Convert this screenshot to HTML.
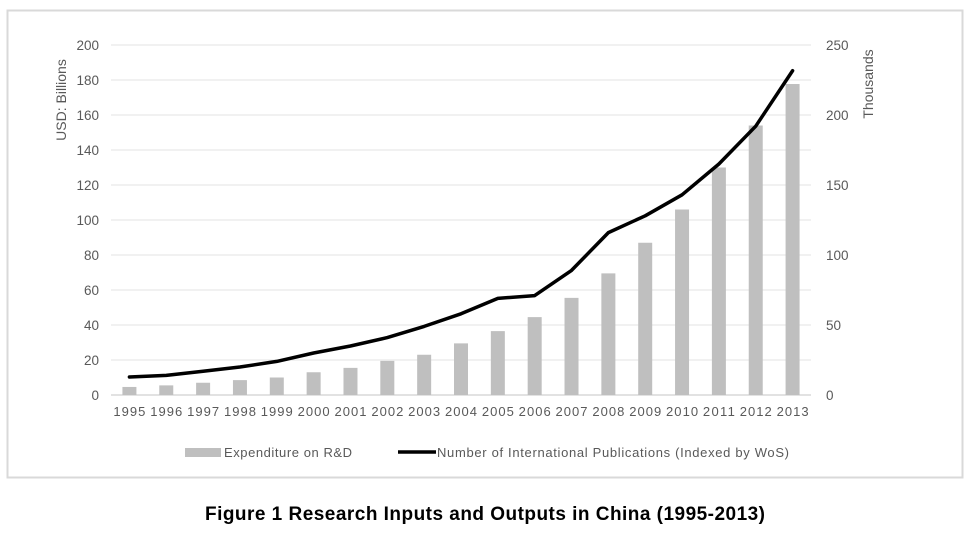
<!DOCTYPE html>
<html><head><meta charset="utf-8"><style>
body{margin:0;background:#fff;width:970px;height:529px;overflow:hidden;font-family:"Liberation Sans",sans-serif}
svg text{font-family:"Liberation Sans",sans-serif}
</style></head><body>
<svg width="970" height="529">
<rect x="7.5" y="10.5" width="955" height="467" fill="#fff" stroke="#d9d9d9" stroke-width="2"/>
<g id="grid"></g><g id="bars"></g><g id="line"></g><g id="axes"></g>
<text x="0" y="0" transform="translate(66,100) rotate(-90)" text-anchor="middle" font-size="14" fill="#595959">USD: Billions</text>
<text x="0" y="0" transform="translate(873,84) rotate(-90)" text-anchor="middle" font-size="14" fill="#595959">Thousands</text>
<rect x="185" y="448" width="36" height="9" fill="#bfbfbf"/>
<text x="224" y="457" font-size="13" fill="#595959" textLength="128">Expenditure on R&amp;D</text>
<line x1="398" y1="452" x2="436" y2="452" stroke="#000" stroke-width="3.5"/>
<text x="437" y="457" font-size="13" fill="#595959" textLength="352">Number of International Publications (Indexed by WoS)</text>
<text x="485" y="520" text-anchor="middle" font-size="19" font-weight="bold" fill="#000" textLength="560">Figure 1 Research Inputs and Outputs in China (1995-2013)</text>
</svg>
<script>
const years=["1995","1996","1997","1998","1999","2000","2001","2002","2003","2004","2005","2006","2007","2008","2009","2010","2011","2012","2013"];
const expenditure=[4.6,5.5,7,8.5,10,13,15.5,19.5,23,29.5,36.5,44.5,55.5,69.5,87,106,130,154,177.7];
const publications=[12.9,14,17,20,24,30,35,41,49,58,69,71,89,116,128,143,165,192,231.6];
const leftTicks=[0,20,40,60,80,100,120,140,160,180,200];
const rightTicks=[0,50,100,150,200,250];
const NS="http://www.w3.org/2000/svg";
const x0=111,x1=811,yb=395,yt=45;
const band=(x1-x0)/years.length;
const xc=i=>x0+band*(i+0.5);
const yL=v=>yb-(v/200)*(yb-yt);
const yR=v=>yb-(v/250)*(yb-yt);
function mk(tag,attrs,parent){const e=document.createElementNS(NS,tag);for(const k in attrs)e.setAttribute(k,attrs[k]);document.getElementById(parent).appendChild(e);return e;}
leftTicks.forEach(t=>{
 const l=mk('line',{x1:x0,x2:x1,y1:yL(t),y2:yL(t),stroke:t===0?'#d9d9d9':'#e3e3e3','stroke-width':t===0?1.5:1},'grid');
 
 
 const tx=mk('text',{x:99,y:yL(t)+5,'text-anchor':'end','font-size':13.5,fill:'#595959'},'axes');
 tx.textContent=t;
 
 
});
rightTicks.forEach(t=>{
 const tx=mk('text',{x:826,y:yR(t)+5,'font-size':13.5,fill:'#595959'},'axes');
 tx.textContent=t;
 
 
});
years.forEach((y,i)=>{
 const b=mk('rect',{x:xc(i)-7,y:yL(expenditure[i]),width:14,height:yb-yL(expenditure[i]),fill:'#bfbfbf'},'bars');
 
 
 const tx=mk('text',{x:xc(i),y:416,'text-anchor':'middle','font-size':13,fill:'#595959',textLength:32},'axes');
 tx.textContent=y;
 
 
});
const p=mk('polyline',{points:publications.map((v,i)=>xc(i)+','+yR(v)).join(' '),fill:'none',stroke:'#000','stroke-width':3.5,'stroke-linejoin':'round','stroke-linecap':'round'},'line');


</script>
</body></html>
